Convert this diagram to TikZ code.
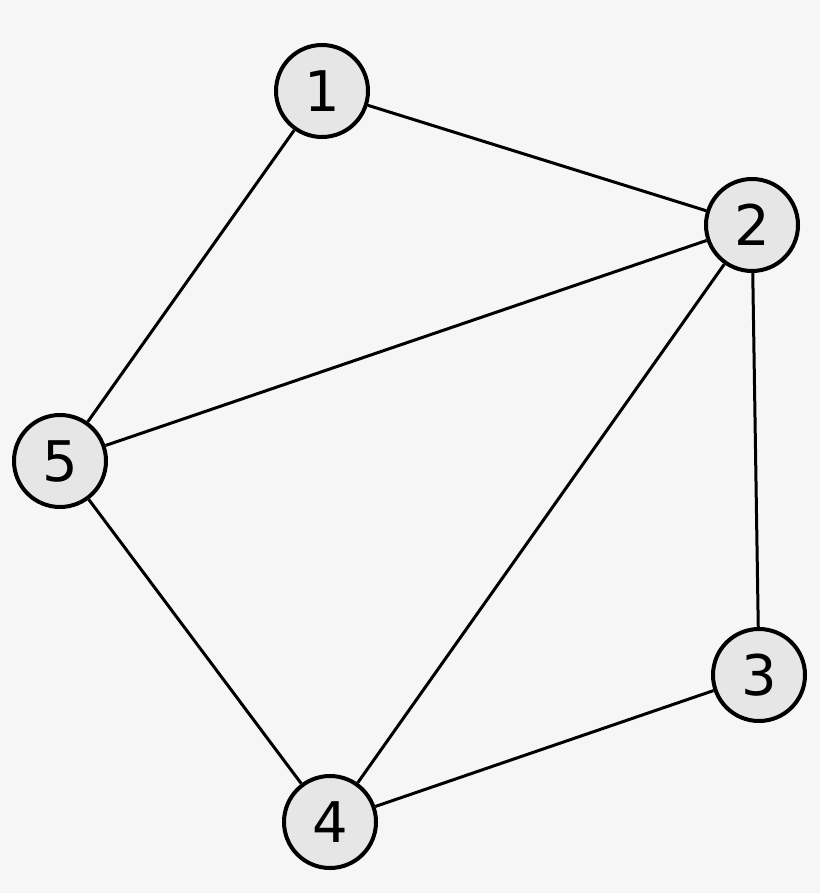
\documentclass[tikz,border=0pt]{standalone}
\usepackage{fontspec}
\setmainfont{DejaVu Sans}
\definecolor{bg}{HTML}{F6F6F6}
\definecolor{nodefill}{HTML}{E6E6E6}
\begin{document}
\begin{tikzpicture}[x=1pt,y=-1pt,
  vert/.style={circle,draw=black,fill=nodefill,line width=4pt,minimum size=92pt,inner sep=0pt,font=\fontsize{56}{60}\selectfont},
  edge/.style={line width=3pt,black}]
\fill[bg] (0,0) rectangle (820,893);
\useasboundingbox (0,0) rectangle (820,893);
\node[vert] (n1) at (322,91) {1};
\node[vert] (n2) at (752,225) {2};
\node[vert] (n3) at (759,675) {3};
\node[vert] (n4) at (330,822) {4};
\node[vert] (n5) at (60,461) {5};
\begin{scope}[on background layer/.style={}]
\end{scope}
\draw[edge] (n1) -- (n2);
\draw[edge] (n1) -- (n5);
\draw[edge] (n2) -- (n5);
\draw[edge] (n2) -- (n4);
\draw[edge] (n2) -- (n3);
\draw[edge] (n3) -- (n4);
\draw[edge] (n5) -- (n4);
\end{tikzpicture}
\end{document}
